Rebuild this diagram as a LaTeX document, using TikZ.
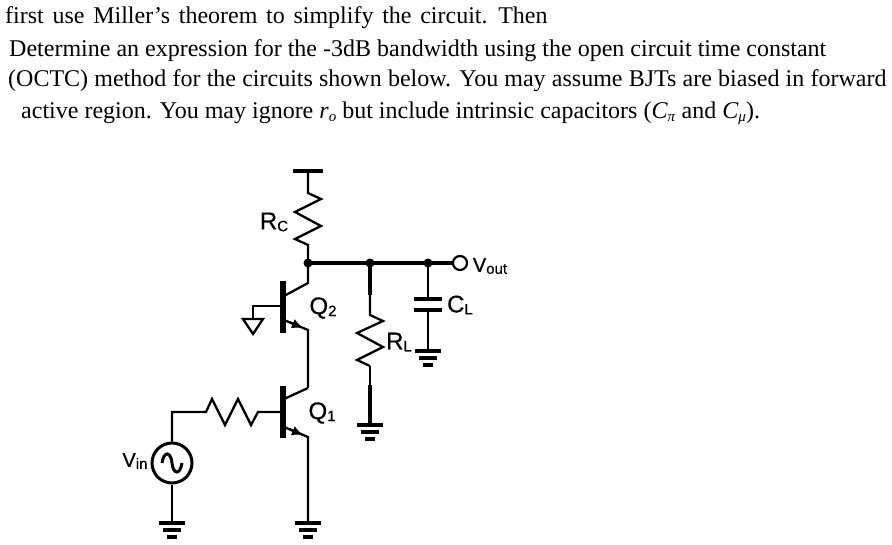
\documentclass[tikz,border=0pt]{standalone}
\usepackage{fontspec}
\setmainfont{Liberation Serif}
\newfontfamily\labfont[FakeBold=0.6]{Liberation Sans}
\usetikzlibrary{arrows.meta}

\tikzset{
  wire/.style={line width=2.3pt},
  bus/.style={line width=4pt},
  bar/.style={line width=4.6pt},
  dot/.style={circle, fill=black, inner sep=0pt, minimum size=9pt},
  para/.style={anchor=base west, inner sep=0pt, font=\fontsize{24}{28}\selectfont},
  lab/.style={inner sep=0pt, font=\labfont\fontsize{24}{26}\selectfont},
  labv/.style={lab, font=\labfont\fontsize{20}{22}\selectfont},
  emit/.style={wire, -{Latex[length=11pt,width=10pt]}},
  pics/gnd/.style={code={
    \draw[bar] (-13,0) -- (13,0);
    \draw[bar] (-9,7) -- (9,7);
    \draw[bar] (-5,14) -- (5,14);
  }}
}
\newcommand{\lbl}[2]{#1\raisebox{-2pt}{\fontsize{15}{15}\selectfont #2}}
\newcommand{\isub}[2]{\textit{#1}\raisebox{-3pt}{\fontsize{15}{15}\selectfont\textit{#2}}}

\begin{document}
\begin{tikzpicture}[x=1pt, y=-1pt]
    \useasboundingbox (0,0) rectangle (892,545);

    % text
    \node [para] (t1) at (5,24) {\spaceskip=8.7pt first use Miller’s theorem to simplify the circuit. Then};
    \node [para] (t2) at (9,57) {Determine an expression for the -3dB bandwidth using the open circuit time constant};
    \node [para] (t3) at (8,87) {\spaceskip=6.2pt (OCTC) method for the circuits shown below. You may assume BJTs are biased in forward};
    \node [para] (t4) at (21,119) {active region. You may ignore \isub{r}{o} but include intrinsic capacitors (\isub{C}{π} and \isub{C}{μ}).};

    % main nodes
    \coordinate (vdd) at (308,171);
    \coordinate (rc1) at (308,193);
    \coordinate (rc2) at (308,245);
    \node [dot] (out) at (308,263) {};
    \node [dot] (nrl) at (370,263) {};
    \node [dot] (ncl) at (428,263) {};
    \node [circle, draw, line width=2.2pt, inner sep=0pt, minimum size=14pt] (vout) at (460,263) {};
    \coordinate (rl1) at (370,315);
    \coordinate (rl2) at (370,366);
    \coordinate (rlg) at (370,425);
    \coordinate (cl1) at (428,299);
    \coordinate (cl2) at (428,310);
    \coordinate (clg) at (428,351);

    % Q2
    \coordinate (q2b) at (283,306);
    \coordinate (q2c) at (308,283);
    \coordinate (q2e) at (308,330);
    \coordinate (q2g) at (253,319);
    % Q1
    \coordinate (q1b) at (283,412);
    \coordinate (q1c) at (308,388);
    \coordinate (q1e) at (308,437);
    \coordinate (q1g) at (308,523);
    % source
    \node [circle, draw, line width=3pt, inner sep=0pt, minimum size=40pt] (vin) at (172,463) {};
    \coordinate (vbend) at (172,412);
    \coordinate (vgnd) at (172,523);
    \coordinate (rb1) at (206,412);
    \coordinate (rb2) at (258,412);

    % supply and collector resistor
    \draw [bar] (293,171) -- (323,171);
    \draw [wire] (vdd) -- (rc1) -- ++(13,6) -- ++(-26,13) -- ++(26,14) -- ++(-26,13) -- (rc2) -- (out.center);

    % output line
    \draw [bus] (out.center) -- (nrl.center) -- (ncl.center) -- (vout);
    \draw [bus] (nrl.center) -- (370,295);
    \draw [wire] (370,295) -- (rl1) -- ++(13,6) -- ++(-26,12) -- ++(26,14) -- ++(-26,13) -- (rl2);
    \draw [wire] (rl2) -- (370,385);
    \draw [line width=3.2pt] (370,385) -- (rlg);
    \pic at (rlg) {gnd};

    % load capacitor
    \draw [wire] (ncl.center) -- (cl1);
    \draw [bar] (414,299) -- (442,299);
    \draw [bar] (414,310) -- (442,310);
    \draw [wire] (cl2) -- (clg);
    \pic at (clg) {gnd};

    % Q2 transistor
    \draw [line width=5.5pt] (283,281) -- (283,333);
    \draw [wire] (out.center) -- (q2c) -- (284,296);
    \draw [wire] (q2b) -- (253,306) -- (q2g);
    \draw [wire] (243,319) -- (263,319) -- (253,334) -- cycle;
    \draw [wire] (284,320) -- (q2e) -- (q1c);
    \draw [emit] (290,322.5) -- (303,328);

    % Q1 transistor
    \draw [line width=5.5pt] (283,386) -- (283,438);
    \draw [wire] (q1c) -- (284,399);
    \draw [wire] (284,427) -- (q1e) -- (q1g);
    \draw [emit] (290,429.5) -- (303,435);
    \pic at (q1g) {gnd};

    % input
    \draw [wire] (vin) -- (vbend) -- (rb1) -- ++(6,-13) -- ++(13,26) -- ++(13,-26) -- ++(13,26) -- ++(7,-13) -- (q1b);
    \draw [wire] (vin) -- (vgnd);
    \pic at (vgnd) {gnd};
    \draw [line width=3pt] (162,463) .. controls (164,450) and (171,452) .. (172,463) .. controls (173,474) and (180,476) .. (182,463);

    % labels
    \node [lab] (rclab) at (274,222) {\lbl{R}{C}};
    \node [lab] (q2lab) at (323,308) {\lbl{Q}{2}};
    \node [lab] (q1lab) at (322,413) {\lbl{Q}{1}};
    \node [lab] (rllab) at (399,342) {\lbl{R}{L}};
    \node [lab] (cllab) at (460,305) {\lbl{C}{L}};
    \node [labv] (vinlab) at (135,461) {\lbl{V}{in}};
    \node [labv] (voutlab) at (490,266) {\lbl{V}{out}};
\end{tikzpicture}
\end{document}
